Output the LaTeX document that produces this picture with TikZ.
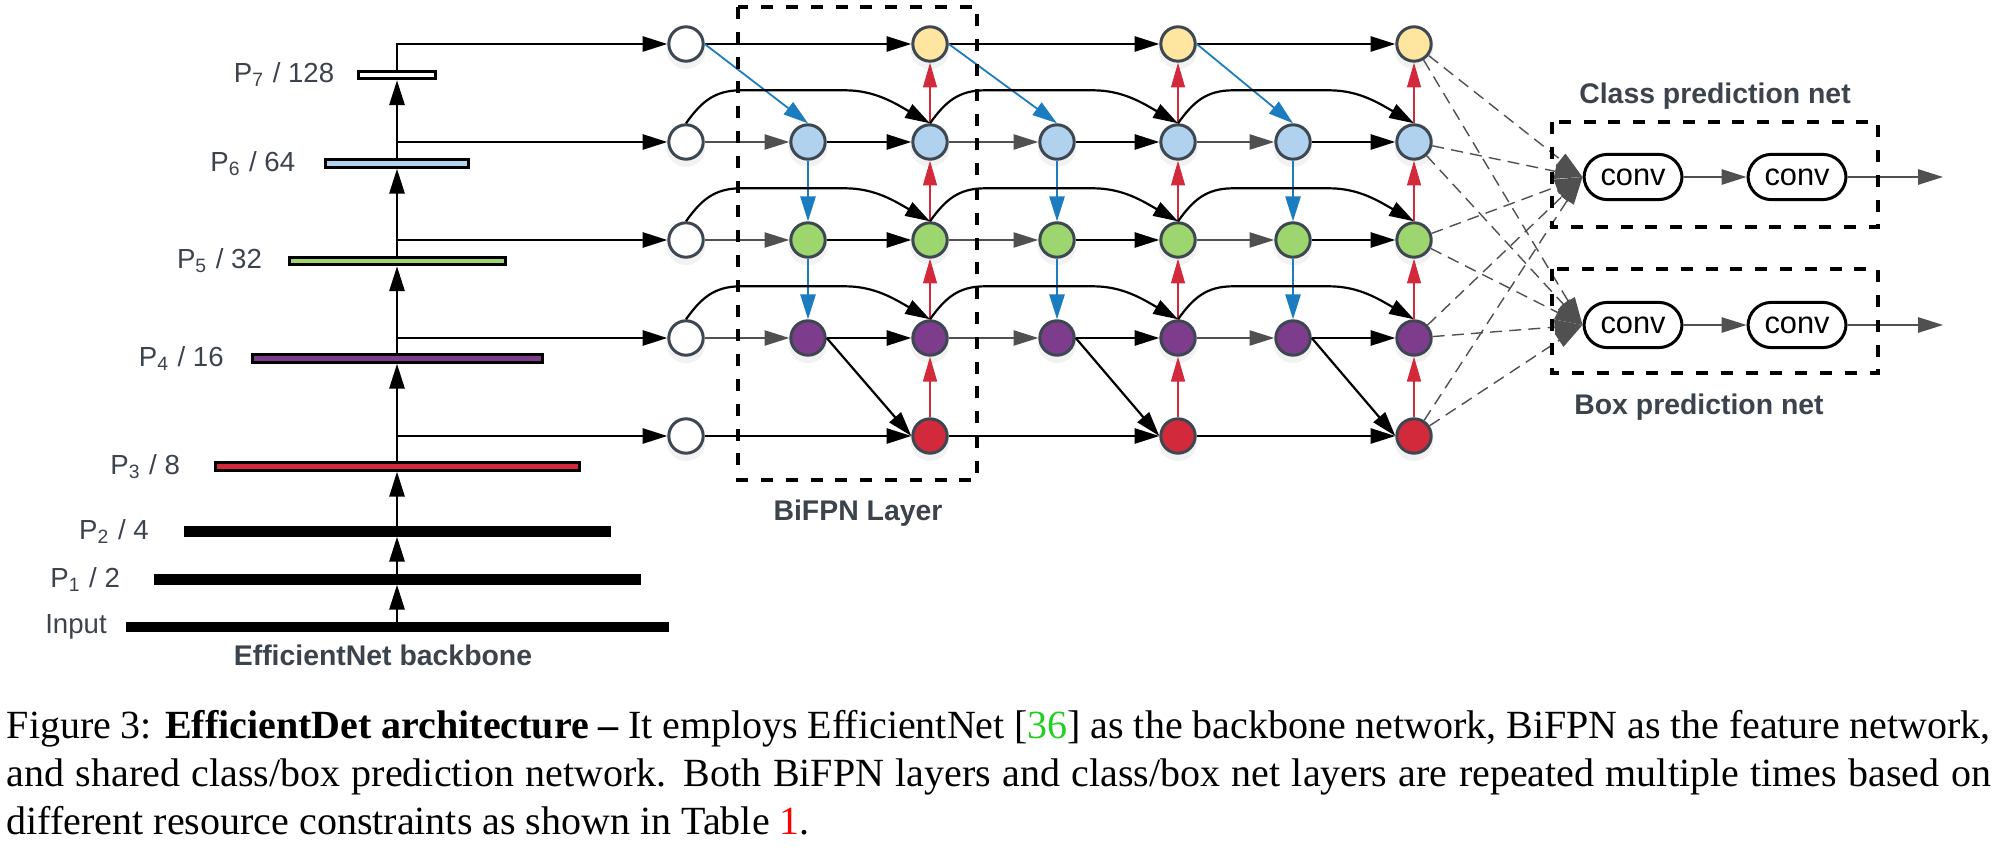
\documentclass[tikz,border=0pt]{standalone}
\usepackage{fontspec}
\setmainfont{Liberation Serif}
\setsansfont{Liberation Sans}
\usetikzlibrary{positioning,arrows.meta,calc,shadows}

\definecolor{nodeline}{HTML}{3D4752}
\definecolor{pyellow}{HTML}{FFE6A0}
\definecolor{pblue}{HTML}{B0D2EE}
\definecolor{pgreen}{HTML}{9DD56F}
\definecolor{ppurple}{HTML}{7E3D8C}
\definecolor{pred}{HTML}{D22A3A}
\definecolor{arrblue}{HTML}{1B7DC0}
\definecolor{arrgray}{HTML}{505050}
\definecolor{labgray}{HTML}{3B434D}
\definecolor{citegreen}{HTML}{22D022}

\tikzset{
  fnode/.style={circle, draw=nodeline, line width=0.75pt, minimum size=8.6pt, inner sep=0pt,
    drop shadow={opacity=0.10, shadow xshift=0pt, shadow yshift=-1.3pt, shadow scale=1.12}},
  bar/.style={rectangle, draw=black, line width=0.75pt, minimum height=1.9pt, inner sep=0pt},
  lbl/.style={font=\sffamily\fontsize{6.9}{8}\selectfont, text=labgray, inner sep=0pt},
  title/.style={font=\sffamily\bfseries\fontsize{7.1}{8.5}\selectfont, text=labgray},
  conv/.style={rectangle, rounded corners=5.8pt, draw=black, line width=0.75pt,
    minimum width=24.5pt, minimum height=11.3pt, fill=white,
    font=\sffamily\fontsize{7.7}{9}\selectfont},
  head/.style={-{Triangle[length=6.2pt,width=3.8pt]}},
  blk/.style={head, draw=black, line width=0.55pt},
  gry/.style={head, draw=arrgray, line width=0.45pt},
  blu/.style={head, draw=arrblue, line width=0.45pt},
  rd/.style={-{Triangle[length=6.2pt,width=3.5pt]}, draw=pred, line width=0.35pt},
  dsh/.style={-{Triangle[length=7pt,width=3.8pt]}, draw=arrgray, line width=0.35pt,
    dash pattern=on 3pt off 1.8pt},
  frame/.style={draw=black, line width=1pt, dash pattern=on 3pt off 3.2pt},
}

\begin{document}
\begin{tikzpicture}[x=0.25pt, y=-0.25pt]
\useasboundingbox (0,0) rectangle (1997,854);

% backbone
\node[bar, fill=white, minimum width=19.25pt] (p7) at (397,75) {};
\node[bar, fill=pblue, minimum width=35.75pt] (p6) at (397,163.5) {};
\node[bar, fill=pgreen, minimum width=54pt] (p5) at (397,261) {};
\node[bar, fill=ppurple, minimum width=72.5pt] (p4) at (397,358.5) {};
\node[bar, fill=pred, minimum width=91pt] (p3) at (397,466.5) {};
\node[bar, fill=black, minimum width=106pt] (p2) at (397,531.5) {};
\node[bar, fill=black, minimum width=121pt] (p1) at (397,579.5) {};
\node[bar, fill=black, minimum width=135pt] (inp) at (397,627) {};

\node[lbl, left=5.5pt of p7] (l7) {P\textsubscript{7} / 128};
\node[lbl, left=7pt of p6] (l6) {P\textsubscript{6} / 64};
\node[lbl, left=6.2pt of p5] (l5) {P\textsubscript{5} / 32};
\node[lbl, left=6.5pt of p4] (l4) {P\textsubscript{4} / 16};
\node[lbl, left=8.2pt of p3] (l3) {P\textsubscript{3} / 8};
\node[lbl, left=8.5pt of p2] (l2) {P\textsubscript{2} / 4};
\node[lbl, left=8.2pt of p1] (l1) {P\textsubscript{1} / 2};
\node[lbl, left=4.5pt of inp] (l0) {Input};
\node[title] (backbone) at (383,655) {EfficientNet backbone};

\draw[blk] (inp.north) -- (p1.south);
\draw[blk] (p1.north) -- (p2.south);
\draw[blk] (p2.north) -- (p3.south);
\draw[blk] (p3.north) -- (p4.south);
\draw[blk] (p4.north) -- (p5.south);
\draw[blk] (p5.north) -- (p6.south);
\draw[blk] (p6.north) -- (p7.south);

% feature nodes
\foreach \r/\y/\col in {7/44/pyellow,6/142/pblue,5/240/pgreen,4/338/ppurple,3/436/pred} {
  \node[fnode, fill=white] (w\r) at (686,\y) {};
  \foreach \c/\x in {b/930,d/1178,f/1414}
    \node[fnode, fill=\col] (\c\r) at (\x,\y) {};
}
\foreach \r/\y/\col in {6/142/pblue,5/240/pgreen,4/338/ppurple}
  \foreach \c/\x in {a/808,c/1057,e/1293}
    \node[fnode, fill=\col] (\c\r) at (\x,\y) {};

\draw[blk] (p7.north) |- (w7.west);
\foreach \r/\p in {6/p6,5/p5,4/p4,3/p3}
  \draw[blk] (\p.north |- w\r) -- (w\r.west);

% BiFPN layers
\foreach \i/\m/\o in {w/a/b,b/c/d,d/e/f} {
  \draw[blk] (\i7) -- (\o7);
  \draw[blk] (\i3) -- (\o3);
  \draw[blu] (\i7.east) -- (\m6.north);
  \draw[blu] (\m6) -- (\m5);
  \draw[blu] (\m5) -- (\m4);
  \draw[blk] (\m4.east) -- (\o3.west);
  \foreach \r in {6,5,4} {
    \draw[gry] (\i\r) -- (\m\r);
    \draw[blk] (\m\r) -- (\o\r);
    \draw[blk] (\i\r.north) .. controls +(15,-21) and +(-27,0) .. +(55,-33)
      -- ($(\o\r.north)+(-85,-33)$) .. controls +(30,0) and +(-35,-20) .. (\o\r.north);
  }
  \draw[rd] (\o3) -- (\o4);
  \draw[rd] (\o4) -- (\o5);
  \draw[rd] (\o5) -- (\o6);
  \draw[rd] (\o6) -- (\o7);
}
\draw[frame] (738,7) rectangle (977,480);
\node[title] (bifpn) at (858,513) {BiFPN Layer};

% prediction nets
\node[conv] (cc1) at (1633,177) {conv};
\node[conv] (cc2) at (1797,177) {conv};
\node[conv] (bc1) at (1633,325) {conv};
\node[conv] (bc2) at (1797,325) {conv};
\coordinate (cout) at (1943,177);
\coordinate (bout) at (1943,325);
\draw[gry] (cc1) -- (cc2);
\draw[gry] (cc2) -- (cout);
\draw[gry] (bc1) -- (bc2);
\draw[gry] (bc2) -- (bout);
\foreach \r in {7,6,5,4,3} {
  \draw[dsh] (f\r) -- (cc1.west);
  \draw[dsh] (f\r) -- (bc1.west);
}
\draw[frame] (1552,122) rectangle (1878,227);
\draw[frame] (1552,269) rectangle (1878,373);
\node[title] (classnet) at (1715,96) {Class prediction net};
\node[title] (boxnet) at (1699,407) {Box prediction net};

% caption
\node[anchor=base west, inner sep=0pt, text width=496pt, align=justify,
  font=\fontsize{10}{12}\selectfont] (cap) at (6,738)
  {Figure 3: \textbf{EfficientDet architecture –} It employs EfficientNet [\textcolor{citegreen}{36}] as the backbone network, BiFPN as the feature network,\linebreak
  and shared class/box prediction network. Both BiFPN layers and class/box net layers are repeated multiple times based on\linebreak
  different resource constraints as shown in Table \textcolor{red}{1}.};
\end{tikzpicture}
\end{document}
